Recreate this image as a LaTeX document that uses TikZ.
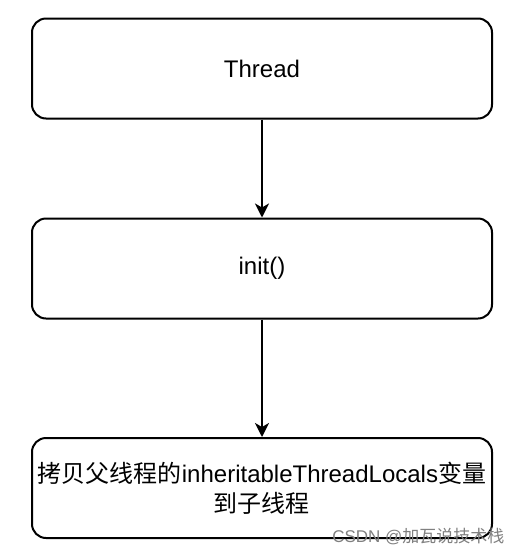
\documentclass[tikz,border=0pt]{standalone}
\usepackage{fontspec}
\setmainfont{Liberation Sans}
\newfontfamily\cjk{Noto Sans CJK SC}
\usepackage{tikz}
\usetikzlibrary{positioning}
\usetikzlibrary{arrows.meta}
\usetikzlibrary{calc}

\begin{document}
\begin{tikzpicture}[x=1pt,y=-1pt,font=\fontsize{24}{30}\selectfont,
  stepbox/.style={draw,line width=2pt,rounded corners=14pt,minimum width=460pt,minimum height=100pt,inner sep=2pt,align=center},
  flow/.style={draw,line width=2pt,-{Stealth[length=14pt,width=14pt,inset=4pt]}}]
  \useasboundingbox (0,0) rectangle (521,555);
  \node[stepbox] (Thread) at (262,68.5) {Thread};
  \node[stepbox] (Init) at (262,268.5) {init()};
  \node[stepbox] (Copy) at (262,488) {{\cjk 拷贝父线程的}inheritableThreadLocals{\cjk 变量}\\{\cjk 到子线程}};
  \node[text=gray,font=\fontsize{17}{17}\selectfont,anchor=south east] (Mark) at (508,548) {CSDN @{\cjk 加瓦说技术栈}};
  \draw[flow] (Thread) -- (Init);
  \draw[flow] (Init) -- (Copy);
\end{tikzpicture}
\end{document}
